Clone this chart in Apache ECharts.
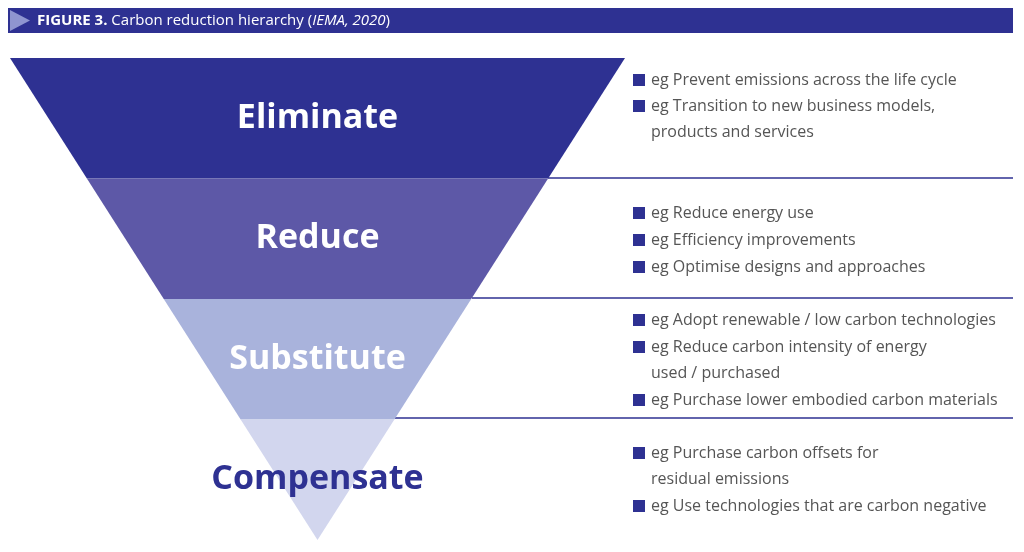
<!DOCTYPE html><html><head><meta charset="utf-8"><script src="https://cdn.jsdelivr.net/npm/echarts@6/dist/echarts.min.js"></script>
<style>html,body{margin:0;padding:0;background:#fff}#c{width:1024px;height:552px}</style></head><body><div id="c"></div><script>
const levels=['Eliminate','Reduce','Substitute','Compensate'];
const levelValues=[4,3,2,1];
const levelColors=['#2e3192','#5d58a7','#a9b3dc','#d2d6ee'];
const labelColors=['#fff','#fff','#fff','#2e3192'];
const bullets=[
 [['eg Prevent emissions across the life cycle',true],['eg Transition to new business models,',true],['products and services',false]],
 [['eg Reduce energy use',true],['eg Efficiency improvements',true],['eg Optimise designs and approaches',true]],
 [['eg Adopt renewable / low carbon technologies',true],['eg Reduce carbon intensity of energy',true],['used / purchased',false],['eg Purchase lower embodied carbon materials',true]],
 [['eg Purchase carbon offsets for',true],['residual emissions',false],['eg Use technologies that are carbon negative',true]]
];
const lineYs=[[80,106,132],[213,240,267],[320,347,373,400],[453,479,506]];
const dividerY=[178,298,418], dividerX=[548,472,395];
const g=[];
g.push({type:'rect',shape:{x:8,y:8,width:1005,height:25},style:{fill:'#2e3192'}});
g.push({type:'polygon',shape:{points:[[10,10],[30,20.5],[10,31]]},style:{fill:'#8f95d0'}});
g.push({type:'text',x:37,y:20.5,style:{text:'{b|FIGURE 3.} Carbon reduction hierarchy ({i|IEMA, 2020})',fill:'#fff',font:'15px "Open Sans"',verticalAlign:'middle',rich:{b:{fontWeight:'bold',fontSize:15,fill:'#fff',fontFamily:'Open Sans'},i:{fontStyle:'italic',fontSize:15,fill:'#fff',fontFamily:'Open Sans'}}}});
dividerY.forEach((y,i)=>g.push({type:'line',shape:{x1:dividerX[i],y1:y,x2:1013,y2:y},style:{stroke:'#2e3192',lineWidth:1.5}}));
bullets.forEach((grp,i)=>grp.forEach((b,j)=>{
 const y=lineYs[i][j];
 if(b[1]) g.push({type:'rect',shape:{x:633,y:y-6,width:12,height:12},style:{fill:'#2e3192'}});
 g.push({type:'text',x:651,y:y,style:{text:b[0],fill:'#555',font:'16px "Open Sans"',verticalAlign:'middle'}});
}));
const chart=echarts.init(document.getElementById('c'));
chart.setOption({animation:false,graphic:g,series:[{type:'funnel',left:10,top:58,width:615,height:482,min:0,max:4,sort:'descending',gap:0,
 label:{show:true,position:'inside',fontSize:34,fontWeight:'bold',fontFamily:'Open Sans'},
 itemStyle:{borderWidth:0},
 data:levels.map((n,i)=>({name:n,value:levelValues[i],itemStyle:{color:levelColors[i]},label:{color:labelColors[i],offset:[0,i==3?-10:0]}}))}]});
</script></body></html>
